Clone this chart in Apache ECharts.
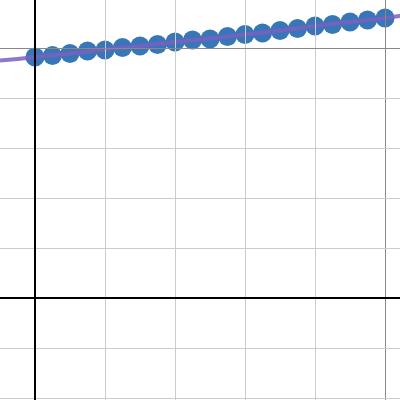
<!DOCTYPE html>
<html><head><meta charset="utf-8">
<script src="https://cdn.jsdelivr.net/npm/echarts@6/dist/echarts.min.js"></script>
<style>html,body{margin:0;padding:0;background:#fff}#c{width:400px;height:400px}</style>
</head><body><div id="c"></div>
<script>
const pointX = [0,0.25,0.5,0.75,1,1.25,1.5,1.75,2,2.25,2.5,2.75,3,3.25,3.5,3.75,4,4.25,4.5,4.75,5];
const pointY = [4.82,4.85,4.89,4.94,4.96,5.01,5.04,5.07,5.12,5.16,5.18,5.23,5.27,5.30,5.35,5.39,5.44,5.47,5.52,5.56,5.60];
const curveX = [-0.5,-0.25,0,0.5,1,1.5,2,2.5,3,3.5,4,4.5,5,5.25];
const curveY = [4.75,4.78,4.82,4.89,4.97,5.04,5.12,5.19,5.27,5.35,5.44,5.52,5.60,5.65];
const gridX = [1,2,3,4,5];
const gridY = [-2,-1,1,2,3,4,5];
const axisLines = [0];

const chart = echarts.init(document.getElementById('c'));
const gl = {color:'#ccc', width:1, type:'solid'};
chart.setOption({
  animation:false,
  grid:{left:0,right:0,top:0,bottom:0},
  xAxis:{type:'value',min:-0.5,max:5.2143,show:false},
  yAxis:{type:'value',min:-2.04,max:5.96,show:false},
  series:[
    {type:'line',data:[],silent:true,markLine:{symbol:'none',label:{show:false},
      data:[
        ...gridX.map(v=>({xAxis:v,lineStyle:(v===5?{color:'#888',width:1,type:'solid'}:gl)})),
        ...gridY.map(v=>({yAxis:v,lineStyle:(v===5?{color:'#888',width:1,type:'solid'}:gl)})),
        ...axisLines.map(v=>({xAxis:v,lineStyle:{color:'#000',width:2,type:'solid'}})),
        ...axisLines.map(v=>({yAxis:v,lineStyle:{color:'#000',width:2,type:'solid'}}))
      ]}},
    {type:'scatter',data:pointX.map((x,i)=>[x,pointY[i]]),symbolSize:19,
      itemStyle:{color:'#2d70b3',opacity:0.95}},
    {type:'line',data:curveX.map((x,i)=>[x,curveY[i]]),smooth:true,showSymbol:false,
      lineStyle:{color:'#7b5fbf',width:4,opacity:0.85}}
  ]
});
</script></body></html>
